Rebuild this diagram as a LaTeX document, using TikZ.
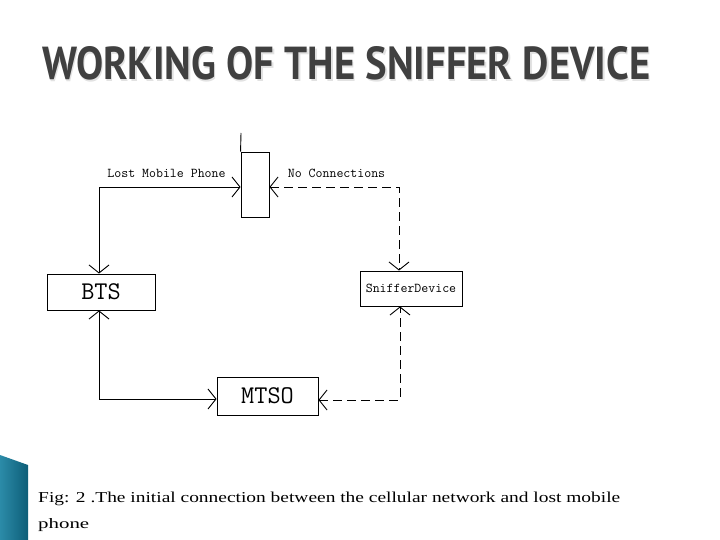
\documentclass[tikz,border=0pt]{standalone}
\usepackage{fontspec}
\usepackage{graphicx}
\setmainfont{Liberation Serif}
\newfontfamily\titlefnt{PT Sans}
\usetikzlibrary{arrows.meta,calc}
\definecolor{titlegray}{HTML}{404040}
\definecolor{shadowgray}{HTML}{E2E2E2}
\definecolor{tealdark}{HTML}{0E5E78}
\definecolor{teallight}{HTML}{2B8BA8}
\newcommand{\titletext}{\resizebox{608pt}{33pt}{\titlefnt\bfseries WORKING OF THE SNIFFER DEVICE}}
\tikzset{
  boxnode/.style={draw, line width=0.9pt, inner sep=0pt, minimum width=#1},
  wire/.style={line width=0.9pt, {Straight Barb[length=8pt,width=20pt]}-{Straight Barb[length=8pt,width=20pt]}},
  dashwire/.style={wire, dash pattern=on 9pt off 5pt},
  smalllabel/.style={font=\ttfamily\fontsize{13.5}{14}\selectfont, inner sep=0pt},
  biglabel/.style={font=\ttfamily\fontsize{25.5}{27}\selectfont}
}
\begin{document}
\begin{tikzpicture}[x=1pt,y=-1pt]
\useasboundingbox (0,0) rectangle (720,540);
\fill[white] (0,0) rectangle (720,540);
% title with soft shadow
\node[anchor=base west, inner sep=0pt, text=titlegray] (title) at (42,80)
  {\makebox[0pt][l]{\hspace{1.5pt}\raisebox{-1.5pt}{\textcolor{shadowgray}{\titletext}}}\titletext};
% blue decorative shape
\shade[left color=teallight, right color=tealdark] (0,455) -- (28,465) -- (28,540) -- (0,540) -- cycle;
% nodes
\node[boxnode=28pt, minimum height=65pt] (phone) at (255,184.5) {};
\coordinate (antennatop) at (241,133);
\draw[line width=0.9pt] (antennatop) -- (phone.north west);
\node[boxnode=108pt, minimum height=36pt, biglabel] (bts) at (101,292) {BTS};
\node[boxnode=102pt, minimum height=35pt, smalllabel] (sniffer) at (411,288.5) {SnifferDevice};
\node[boxnode=101pt, minimum height=38pt, biglabel] (mtso) at (267.5,396) {MTSO};
% labels
\node[smalllabel] (lostlbl) at (166.5,173) {Lost Mobile Phone};
\node[smalllabel] (nolbl) at (336.5,173) {No Connections};
% connectors
\draw[wire] ([xshift=-2pt]bts.north) |- ([yshift=-2.5pt]phone.west);
\draw[dashwire] ([yshift=-2.5pt]phone.east) -| ([xshift=-12pt]sniffer.north);
\draw[wire] ([xshift=-2pt]bts.south) |- ([yshift=-3pt]mtso.west);
\draw[dashwire] ([yshift=-4pt]mtso.east) -| ([xshift=-11pt]sniffer.south);
% caption
\node[anchor=base west, inner sep=0pt] (cap1) at (38,502)
  {\resizebox{582pt}{10.5pt}{Fig: 2 .The initial connection between the cellular network and lost mobile}};
\node[anchor=base west, inner sep=0pt] (cap2) at (38,528)
  {\resizebox{51pt}{10pt}{phone}};
\end{tikzpicture}
\end{document}
